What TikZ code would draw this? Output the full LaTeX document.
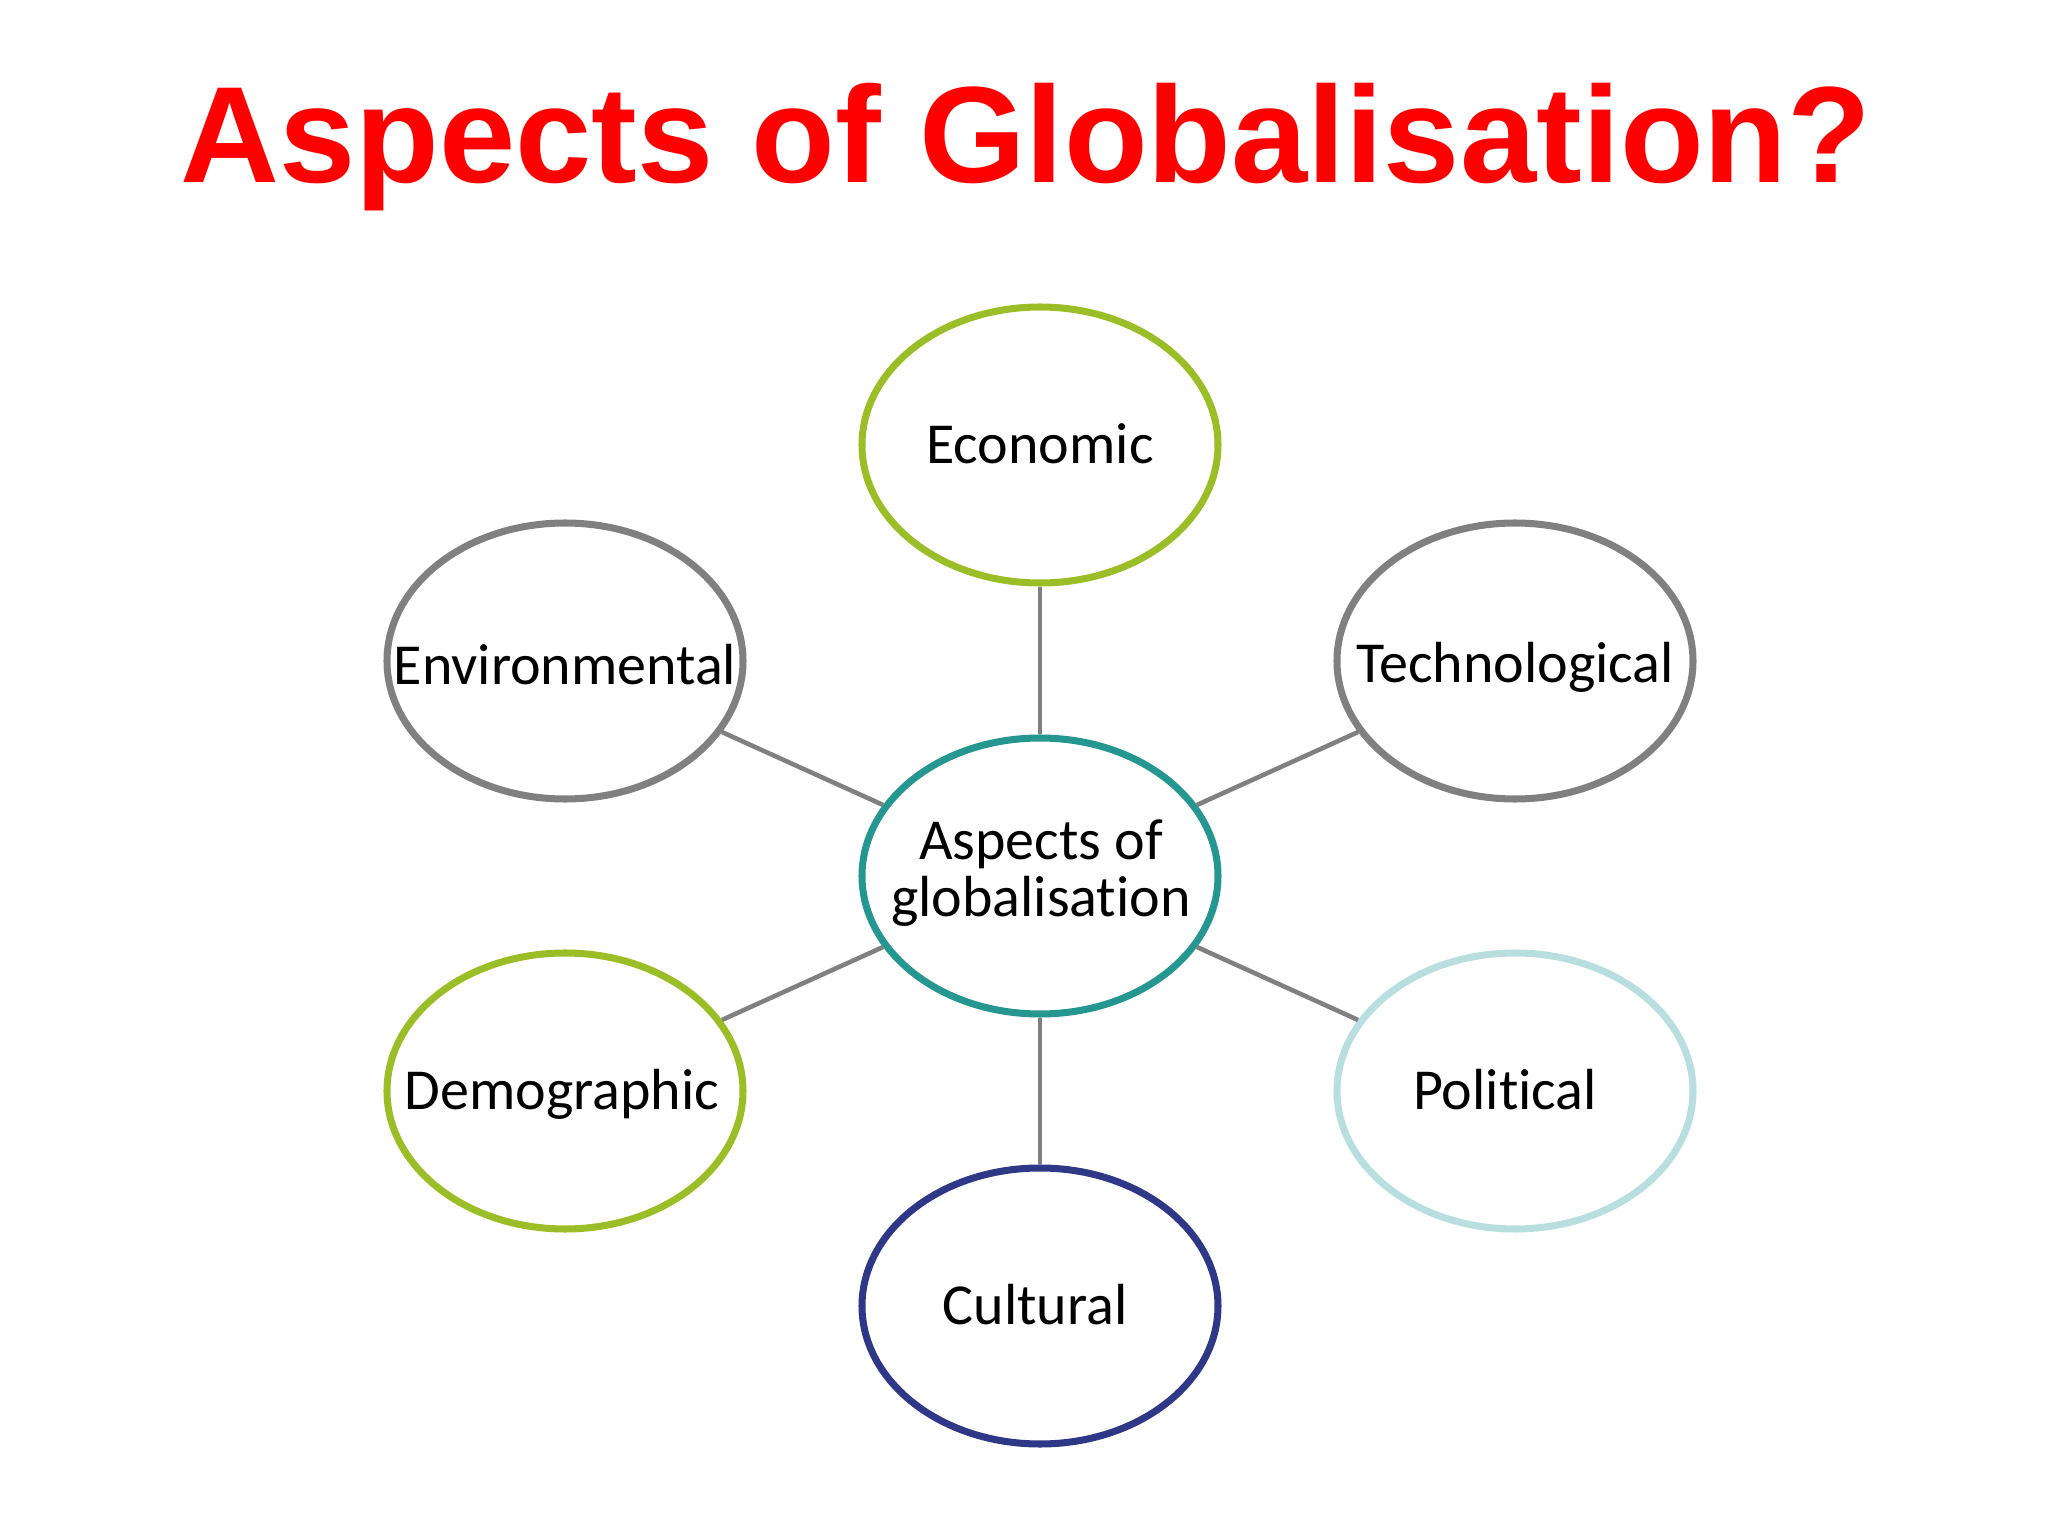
\documentclass[tikz,border=0pt]{standalone}
\usepackage{fontspec}
\setmainfont{Carlito}[Ligatures={NoCommon}]
\newfontfamily\titlefont{Liberation Sans}
\usepackage{tikz}
\usetikzlibrary{shapes.geometric}

\definecolor{aspgreen}{RGB}{155,190,40}
\definecolor{aspteal}{RGB}{38,150,145}
\definecolor{aspnavy}{RGB}{46,56,135}
\definecolor{asplight}{RGB}{184,222,224}
\definecolor{aspgray}{RGB}{128,128,128}

\begin{document}
\begin{tikzpicture}[
        bubble/.style={ellipse, draw, line width=2pt, minimum width=3.56cm, minimum height=2.76cm, inner sep=0pt},
        bubbletext/.style={font=\fontsize{16.5}{16.5}\selectfont, text height=0.37cm, text depth=0pt, inner sep=0pt},
        spoke/.style={draw=aspgray, line width=1.3pt}
    ]
        \useasboundingbox (0,0) rectangle (20.48,-15.36);    % 页面大小

        \node[anchor=base, text=red, font=\titlefont\bfseries\fontsize{39}{39}\selectfont] (title) at (10.26,-1.83) {Aspects of Globalisation?};

        % 中心
        \node[bubble, draw=aspteal] (hub) at (10.40,-8.76) {};
        \node[font=\fontsize{16.5}{16.2}\selectfont, align=center, inner sep=0pt] (hubtext) at (10.41,-8.73) {Aspects of\\globalisation};

        % 六个方面
        \node[bubble, draw=aspgreen] (econ) at (10.40,-4.45) {};
        \node[bubble, draw=aspgray] (tech) at (15.15,-6.61) {};
        \node[bubble, draw=asplight] (pol) at (15.15,-10.91) {};
        \node[bubble, draw=aspnavy] (cult) at (10.40,-13.06) {};
        \node[bubble, draw=aspgreen] (demo) at (5.65,-10.91) {};
        \node[bubble, draw=aspgray] (env) at (5.65,-6.61) {};

        \node[bubbletext] (econtext) at (econ.center) {Economic};
        \node[bubbletext] (techtext) at ([yshift=-0.03cm]tech.center) {Technological};
        \node[bubbletext] (poltext) at ([xshift=-0.1cm]pol.center) {Political};
        \node[bubbletext] (culttext) at ([xshift=-0.05cm]cult.center) {Cultural};
        \node[bubbletext] (demotext) at ([xshift=-0.03cm]demo.center) {Demographic};
        \node[bubbletext] (envtext) at ([yshift=-0.05cm]env.center) {Environmental};

        \foreach \n in {econ,tech,pol,cult,demo,env}
            \draw[spoke] (hub) -- (\n);
    \end{tikzpicture}
\end{document}
